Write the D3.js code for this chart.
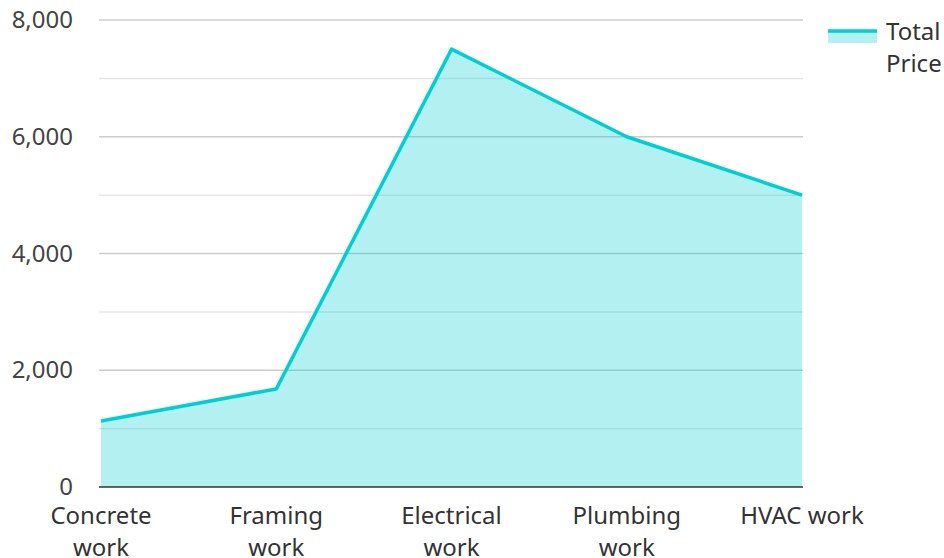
<!DOCTYPE html>
<html>
<head>
<meta charset="utf-8">
<script src="https://cdn.jsdelivr.net/npm/d3@7"></script>
<style>
  body { margin: 0; background: #fff; }
  text { font-family: "Noto Sans", "Open Sans", sans-serif; }
</style>
</head>
<body>
<div class="chart"></div>
<script>
const categories = ["Concrete work", "Framing work", "Electrical work", "Plumbing work", "HVAC work"]
const totalPrice = [1130, 1680, 7500, 6000, 5000]
const yTicks = [0, 2000, 4000, 6000, 8000]
const minorTicks = [1000, 3000, 5000, 7000]
const seriesName = "Total Price"

const data = categories.map((c, i) => ({ cat: c, value: totalPrice[i] }))

const W = 944, H = 558
const margin = { top: 20, right: 142, bottom: 71, left: 101 }

const svg = d3.select(".chart").append("svg")
  .attr("width", W).attr("height", H)

const xScale = d3.scalePoint()
  .domain(categories)
  .range([margin.left, W - margin.right])

const yScale = d3.scaleLinear()
  .domain([0, 8000])
  .range([H - margin.bottom, margin.top])

const color = "#00ced1"

// grid
svg.append("g").selectAll("line")
  .data(minorTicks)
  .join("line")
  .attr("x1", margin.left - 2).attr("x2", W - margin.right + 1)
  .attr("y1", d => yScale(d)).attr("y2", d => yScale(d))
  .attr("stroke", "#e6e6e6").attr("stroke-width", 1.5)

svg.append("g").selectAll("line")
  .data(yTicks.filter(d => d > 0))
  .join("line")
  .attr("x1", margin.left - 2).attr("x2", W - margin.right + 1)
  .attr("y1", d => yScale(d)).attr("y2", d => yScale(d))
  .attr("stroke", "#cccccc").attr("stroke-width", 1.5)

// area + line
const area = d3.area()
  .x(d => xScale(d.cat))
  .y0(yScale(0))
  .y1(d => yScale(d.value))

const line = d3.line()
  .x(d => xScale(d.cat))
  .y(d => yScale(d.value))

svg.append("path")
  .datum(data)
  .attr("d", area)
  .attr("fill", color)
  .attr("fill-opacity", 0.3)

svg.append("path")
  .datum(data)
  .attr("d", line)
  .attr("fill", "none")
  .attr("stroke", color)
  .attr("stroke-width", 3.5)
  .attr("stroke-linejoin", "round")

// y axis
const yAxis = d3.axisLeft(yScale)
  .tickValues(yTicks)
  .tickFormat(d3.format(","))
  .tickSize(0)
  .tickPadding(28)

svg.append("g")
  .attr("transform", `translate(${margin.left},0)`)
  .call(yAxis)
  .call(g => g.select(".domain").remove())
  .call(g => g.selectAll("text")
    .attr("font-size", 24)
    .attr("fill", "#444")
    .attr("font-family", "'Noto Sans', sans-serif"))

// x axis baseline
svg.append("line")
  .attr("x1", margin.left - 2).attr("x2", W - margin.right + 1)
  .attr("y1", yScale(0)).attr("y2", yScale(0))
  .attr("stroke", "#333").attr("stroke-width", 1.5)

// x labels, wrapped
const xl = svg.append("g").selectAll("text")
  .data(categories)
  .join("text")
  .attr("x", d => xScale(d))
  .attr("y", 524)
  .attr("text-anchor", "middle")
  .attr("font-size", 24)
  .attr("fill", "#333")

xl.each(function(d) {
  const words = d === "HVAC work" ? [d] : d.split(" ")
  d3.select(this).selectAll("tspan")
    .data(words)
    .join("tspan")
    .attr("x", xScale(d))
    .attr("dy", (w, i) => i === 0 ? 0 : 32)
    .text(w => w)
})

// legend
const lg = svg.append("g").attr("transform", "translate(828,0)")
lg.append("rect")
  .attr("x", 0).attr("y", 31).attr("width", 49).attr("height", 12)
  .attr("fill", color).attr("fill-opacity", 0.3)
lg.append("line")
  .attr("x1", 0).attr("x2", 49).attr("y1", 31).attr("y2", 31)
  .attr("stroke", color).attr("stroke-width", 3.5)
lg.append("text")
  .attr("x", 58).attr("y", 40)
  .attr("font-size", 24).attr("fill", "#333")
  .selectAll("tspan")
  .data(seriesName.split(" "))
  .join("tspan")
  .attr("x", 58)
  .attr("dy", (w, i) => i === 0 ? 0 : 32)
  .text(w => w)
</script>
</body>
</html>
